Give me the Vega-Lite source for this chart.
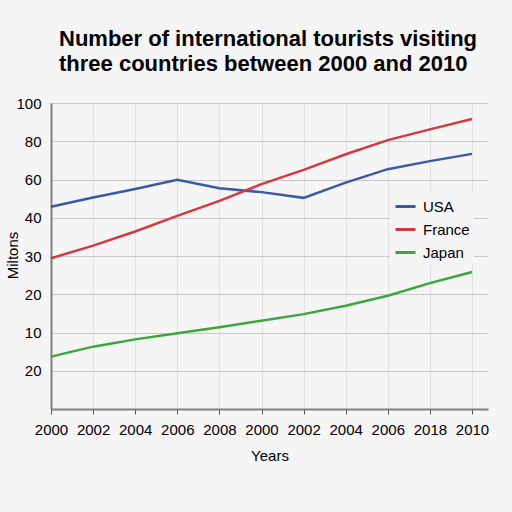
{
  "$schema": "https://vega.github.io/schema/vega-lite/v6.json",
  "autosize": "none",
  "padding": {"left": 51, "top": 103, "right": 24, "bottom": 103},
  "width": 437,
  "height": 306,
  "background": "#f5f5f5",
  "title": {
    "text": ["Number of international tourists visiting", "three countries between 2000 and 2010"],
    "anchor": "start",
    "frame": "group",
    "dx": 8,
    "offset": 20,
    "fontSize": 22,
    "fontWeight": "bold",
    "lineHeight": 25,
    "color": "#000000"
  },
  "config": {
    "font": "Liberation Sans, Arial, sans-serif",
    "view": {"stroke": null}
  },
  "data": {
    "values": [
      {"i": 0, "v": 5.29, "country": "USA"},
      {"i": 1, "v": 5.53, "country": "USA"},
      {"i": 2, "v": 5.75, "country": "USA"},
      {"i": 3, "v": 5.99, "country": "USA"},
      {"i": 4, "v": 5.77, "country": "USA"},
      {"i": 5, "v": 5.67, "country": "USA"},
      {"i": 6, "v": 5.52, "country": "USA"},
      {"i": 7, "v": 5.92, "country": "USA"},
      {"i": 8, "v": 6.27, "country": "USA"},
      {"i": 9, "v": 6.48, "country": "USA"},
      {"i": 10, "v": 6.67, "country": "USA"},
      {"i": 0, "v": 3.94, "country": "France"},
      {"i": 1, "v": 4.27, "country": "France"},
      {"i": 2, "v": 4.64, "country": "France"},
      {"i": 3, "v": 5.05, "country": "France"},
      {"i": 4, "v": 5.44, "country": "France"},
      {"i": 5, "v": 5.88, "country": "France"},
      {"i": 6, "v": 6.25, "country": "France"},
      {"i": 7, "v": 6.66, "country": "France"},
      {"i": 8, "v": 7.03, "country": "France"},
      {"i": 9, "v": 7.31, "country": "France"},
      {"i": 10, "v": 7.58, "country": "France"},
      {"i": 0, "v": 1.37, "country": "Japan"},
      {"i": 1, "v": 1.63, "country": "Japan"},
      {"i": 2, "v": 1.82, "country": "Japan"},
      {"i": 3, "v": 1.98, "country": "Japan"},
      {"i": 4, "v": 2.14, "country": "Japan"},
      {"i": 5, "v": 2.31, "country": "Japan"},
      {"i": 6, "v": 2.48, "country": "Japan"},
      {"i": 7, "v": 2.70, "country": "Japan"},
      {"i": 8, "v": 2.96, "country": "Japan"},
      {"i": 9, "v": 3.29, "country": "Japan"},
      {"i": 10, "v": 3.58, "country": "Japan"}
    ]
  },
  "mark": {"type": "line", "strokeWidth": 2.5},
  "encoding": {
    "x": {
      "field": "i",
      "type": "quantitative",
      "scale": {"domain": [0, 10.38], "nice": false, "zero": false},
      "axis": {
        "title": "Years",
        "titleFontSize": 15,
        "titleFontWeight": "normal",
        "titleColor": "#000000",
        "titlePadding": 11,
        "values": [0, 1, 2, 3, 4, 5, 6, 7, 8, 9, 10],
        "labelExpr": "['2000','2002','2004','2006','2008','2000','2002','2004','2006','2018','2010'][datum.value]",
        "labelFontSize": 15,
        "labelColor": "#000000",
        "labelPadding": 8,
        "labelFlush": false,
        "labelOverlap": false,
        "tickSize": 5,
        "tickColor": "#555555",
        "domainColor": "#808080",
        "domainWidth": 2,
        "gridColor": "#e2e2e2"
      }
    },
    "y": {
      "field": "v",
      "type": "quantitative",
      "scale": {"domain": [0, 8], "nice": false},
      "axis": {
        "title": "Miltons",
        "titleFontSize": 15,
        "titleFontWeight": "normal",
        "titleColor": "#000000",
        "titleX": -39,
        "titleY": 152,
        "titleAlign": "center",
        "titleBaseline": "middle",
        "values": [1, 2, 3, 4, 5, 6, 7, 8],
        "labelExpr": "['','20','10','20','30','40','60','80','100'][datum.value]",
        "labelFontSize": 15,
        "labelColor": "#000000",
        "labelPadding": 10,
        "labelFlush": false,
        "tickSize": 0,
        "domainColor": "#808080",
        "domainWidth": 2,
        "gridColor": "#c8c8c8"
      }
    },
    "color": {
      "field": "country",
      "type": "nominal",
      "scale": {"domain": ["USA", "France", "Japan"], "range": ["#3a5aa6", "#d13a40", "#3aa63c"]},
      "legend": {
        "title": null,
        "orient": "none",
        "legendX": 339,
        "legendY": 88,
        "symbolType": "stroke",
        "symbolSize": 400,
        "symbolStrokeWidth": 3,
        "labelFontSize": 15,
        "labelColor": "#000000",
        "labelOffset": 6,
        "rowPadding": 3,
        "padding": 4,
        "fillColor": "#f5f5f5"
      }
    }
  }
}
